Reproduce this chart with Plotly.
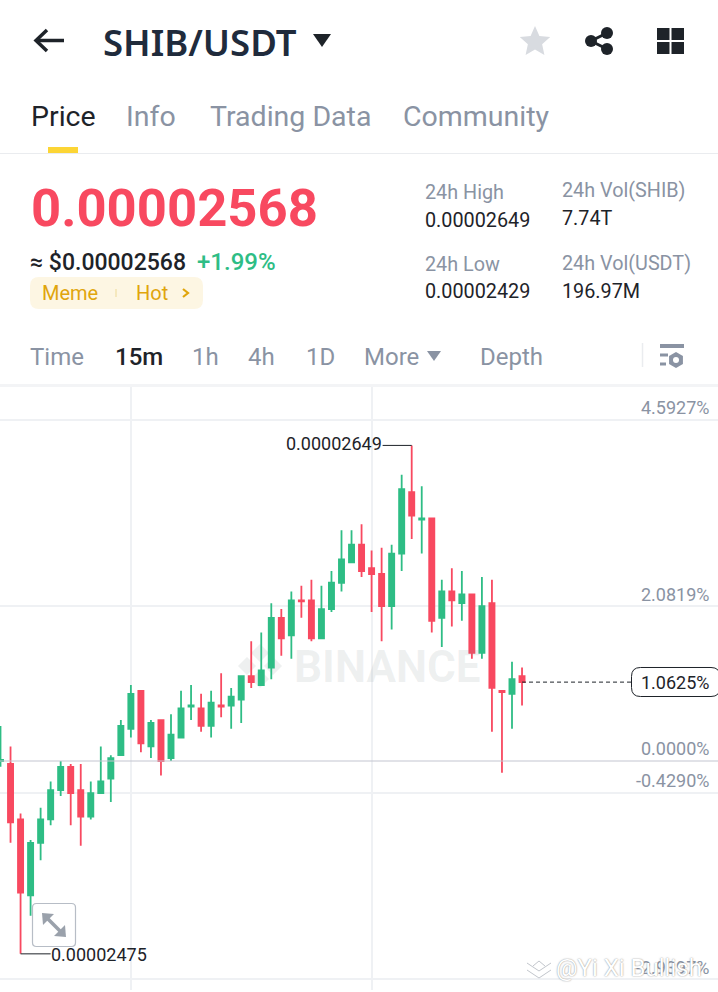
import math
import plotly.graph_objects as go

# prices in units of 1e-8 USDT, oldest candle first
opens = [2541, 2540, 2521, 2495, 2513, 2521, 2531, 2539, 2531, 2522, 2530, 2535, 2543, 2552, 2565, 2546, 2555, 2542,
         2549, 2559.6, 2559, 2553, 2560, 2560, 2562, 2570, 2567, 2573, 2590, 2584, 2596, 2596, 2583, 2593, 2602, 2609,
         2615, 2607, 2605, 2594, 2612, 2633, 2623.6, 2624, 2590, 2599, 2595, 2598, 2578, 2595, 2565, 2564, 2570]
highs = [2553, 2546, 2523, 2514, 2525, 2534, 2541, 2540, 2540, 2534, 2546, 2543, 2555, 2567, 2565, 2555, 2555, 2557,
         2565, 2567, 2564, 2565, 2571, 2566, 2570, 2582, 2585, 2595, 2593, 2599, 2601, 2603, 2601, 2606, 2620, 2620,
         2622, 2613, 2614, 2615, 2639, 2649, 2635, 2624, 2603, 2607, 2606, 2598, 2604, 2603, 2565, 2575, 2573]
lows = [2539, 2513, 2475, 2488, 2507, 2519, 2529, 2519, 2512, 2521, 2530, 2527, 2543, 2549, 2544, 2542, 2536, 2541,
        2549, 2555, 2551, 2549, 2556, 2552, 2554, 2566, 2567, 2569, 2577, 2576, 2590, 2582, 2583, 2592, 2599, 2609,
        2604, 2592, 2582, 2586, 2606, 2617, 2612, 2585, 2580, 2587, 2589, 2576, 2576, 2551, 2537, 2552, 2560]
closes = [2541.4, 2520, 2496, 2513, 2521, 2531, 2539, 2530, 2522, 2530, 2534, 2542, 2553, 2564, 2547, 2554, 2541, 2550,
          2559, 2560, 2553, 2561, 2559.6, 2563, 2570, 2568, 2572, 2590, 2583, 2596, 2595.6, 2583, 2593, 2602, 2610,
          2615, 2606, 2605, 2594, 2612, 2634, 2625, 2624, 2589, 2599, 2596, 2598, 2578, 2594, 2566, 2564.6, 2569, 2568]
candle_idx = list(range(len(opens)))

base_price = 2541
high_price = 2649
low_price = 2475
last_price = 2568
high_idx = 41
low_idx = 2

pct_levels = [4.5927, 2.0819, -0.4290, -2.9397]
pct_labels = ["4.5927%", "2.0819%", "-0.4290%", "-2.9397%"]
time_grid = [13, 37]

GREEN = "#2ebd85"
RED = "#f84960"
DARK = "#1e2329"
GREY = "#8a93a3"
LINE = "#eff1f4"
FONT = "Roboto"
W, H = 718, 992


def fx(x):
    return x / W


def fy(y):
    return 1 - y / H


def path(points, close=True):
    s = "M" + " L".join(f"{fx(x):.5f},{fy(y):.5f}" for x, y in points)
    return s + (" Z" if close else "")


def circle(cx, cy, r):
    return dict(type="circle", xref="paper", yref="paper", x0=fx(cx - r), x1=fx(cx + r), y0=fy(cy + r), y1=fy(cy - r),
                fillcolor=DARK, line_width=0)


def round_box(x0, y0, x1, y1, r):
    return (f"M{fx(x0 + r):.5f},{fy(y0):.5f} L{fx(x1 - r):.5f},{fy(y0):.5f} "
            f"Q{fx(x1):.5f},{fy(y0):.5f} {fx(x1):.5f},{fy(y0 + r):.5f} L{fx(x1):.5f},{fy(y1 - r):.5f} "
            f"Q{fx(x1):.5f},{fy(y1):.5f} {fx(x1 - r):.5f},{fy(y1):.5f} L{fx(x0 + r):.5f},{fy(y1):.5f} "
            f"Q{fx(x0):.5f},{fy(y1):.5f} {fx(x0):.5f},{fy(y1 - r):.5f} L{fx(x0):.5f},{fy(y0 + r):.5f} "
            f"Q{fx(x0):.5f},{fy(y0):.5f} {fx(x0 + r):.5f},{fy(y0):.5f} Z")


shapes = []


def fill(points, color):
    shapes.append(dict(type="path", xref="paper", yref="paper", path=path(points), fillcolor=color, line_width=0))


def stroke(points, color, width):
    shapes.append(dict(type="path", xref="paper", yref="paper", path=path(points, close=False),
                       line=dict(color=color, width=width)))


annotations = []


def label(text, x, y, size, color=DARK, anchor="left", weight=400, family=FONT):
    # annotations carry 2px of padding around the text
    x = x - 2 if anchor == "left" else x + 2
    annotations.append(dict(text=text, x=fx(x), y=fy(y), xref="paper", yref="paper", showarrow=False, xanchor=anchor,
                            yanchor="middle", font=dict(family=family, size=size, color=color, weight=weight)))


fig = go.Figure()

fig.add_trace(go.Candlestick(
    x=candle_idx, open=opens, high=highs, low=lows, close=closes,
    increasing=dict(line=dict(color=GREEN, width=1.8), fillcolor=GREEN),
    decreasing=dict(line=dict(color=RED, width=1.8), fillcolor=RED),
    whiskerwidth=0, hoverinfo="skip",
))

# high / low leaders and the last price line
fig.add_trace(go.Scatter(x=[high_idx - 2.9, high_idx], y=[high_price, high_price], mode="lines",
                         line=dict(color=DARK, width=1), hoverinfo="skip"))
fig.add_trace(go.Scatter(x=[low_idx, low_idx + 3], y=[low_price, low_price], mode="lines",
                         line=dict(color=DARK, width=1), hoverinfo="skip"))
fig.add_trace(go.Scatter(x=[candle_idx[-1], 62.9], y=[last_price, last_price], mode="lines",
                         line=dict(color=DARK, width=1, dash="4px,3px"), hoverinfo="skip"))

annotations.append(dict(text="0.00002649", x=high_idx - 2.8, y=high_price + 0.5, xref="x", yref="y", showarrow=False,
                        xanchor="right", font=dict(family=FONT, size=18, color=DARK)))
annotations.append(dict(text="0.00002475", x=low_idx + 2.8, y=low_price - 0.3, xref="x", yref="y", showarrow=False,
                        xanchor="left", font=dict(family=FONT, size=18, color=DARK)))

# header
stroke([(36, 40.5), (64, 40.5)], DARK, 3.5)
stroke([(47, 30), (36, 40.5), (47, 51)], DARK, 3.5)
label("SHIB/USDT", 103, 42, 36.5, "#202b3c", weight=600, family="Noto Sans")
fill([(313, 34), (331, 34), (322, 47)], DARK)
star = []
for i in range(10):
    r = 16 if i % 2 == 0 else 7.5
    a = -math.pi / 2 + i * math.pi / 5
    star.append((535 + r * math.cos(a), 42 + r * math.sin(a)))
fill(star, "#d8dbe0")
stroke([(607, 33), (591, 41), (607, 49)], DARK, 3)
shapes += [circle(607, 33, 6), circle(591, 41, 6), circle(607, 49, 6)]
for x0, x1 in [(657, 669.5), (671.5, 684)]:
    for y0, y1 in [(28, 40), (42, 54)]:
        fill([(x0, y0), (x1, y0), (x1, y1), (x0, y1)], DARK)

# tabs
label("Price", 31, 117, 28.5)
label("Info", 126, 117, 28.5, GREY)
label("Trading Data", 210, 117, 28.5, GREY)
label("Community", 403, 117, 28.5, GREY)
fill([(48, 147), (78, 147), (78, 153), (48, 153)], "#fcd535")
stroke([(0, 153.5), (718, 153.5)], "#eaecef", 1)

# price block
label("0.00002568", 31, 208, 52.6, RED, weight=700)
label("≈ $0.00002568", 30, 262, 23, DARK, weight=500)
label("+1.99%", 197, 262, 24, GREEN, weight=500)
shapes.append(dict(type="path", xref="paper", yref="paper", path=round_box(30, 277, 203, 309, 9),
                   fillcolor="#fdf6e3", line_width=0))
label("Meme", 42, 293, 20, "#e0a50c")
stroke([(116, 289), (116, 297)], "#f2e3b0", 1.5)
label("Hot", 136, 293, 20, "#e0a50c")
stroke([(183, 289), (188, 293), (183, 297)], "#e0a50c", 2.2)

label("24h High", 425, 192, 19.8, GREY)
label("0.00002649", 425, 220, 19.8)
label("24h Vol(SHIB)", 562, 190, 19.8, GREY)
label("7.74T", 562, 219, 19.8)
label("24h Low", 425, 264, 19.8, GREY)
label("0.00002429", 425, 291, 19.8)
label("24h Vol(USDT)", 562, 263, 19.8, GREY)
label("196.97M", 562, 291, 19.8)

# interval row
label("Time", 30, 357, 24, GREY)
label("15m", 115, 357, 24, DARK, weight=500)
label("1h", 192, 357, 24, GREY)
label("4h", 248, 357, 24, GREY)
label("1D", 306, 357, 24, GREY)
label("More", 364, 357, 24, GREY)
fill([(427, 351), (441, 351), (434, 361)], GREY)
label("Depth", 480, 357, 24, GREY)
stroke([(642.5, 343), (642.5, 367)], "#eaecef", 1.5)
stroke([(660, 346), (684, 346)], GREY, 4)
stroke([(660, 355), (668, 355)], GREY, 3)
stroke([(660, 364), (666, 364)], GREY, 3)
hex_pts = [(676 + 8 * math.cos(math.pi / 6 + i * math.pi / 3), 360 + 8 * math.sin(math.pi / 6 + i * math.pi / 3))
           for i in range(6)]
fill(hex_pts, GREY)
shapes.append(dict(type="circle", xref="paper", yref="paper", x0=fx(673), x1=fx(679), y0=fy(363), y1=fy(357),
                   fillcolor="white", line_width=0))
stroke([(0, 385.5), (718, 385.5)], "#f3f4f6", 3)

# watermark behind the candles
for cx, cy, r in [(247, 666, 9), (260, 653, 9), (260, 679, 9), (273, 666, 9)]:
    shapes.append(dict(type="path", xref="paper", yref="paper", layer="below",
                       path=path([(cx, cy - r), (cx + r, cy), (cx, cy + r), (cx - r, cy)]),
                       fillcolor="#eef0f0", line_width=0))
annotations.append(dict(text="BINANCE", x=fx(292), y=fy(667), xref="paper", yref="paper", showarrow=False,
                        xanchor="left", yanchor="middle",
                        font=dict(family=FONT, size=44, color="rgba(125,140,140,0.13)", weight=700)))

# right hand labels
label(pct_labels[0], 710, 407, 18, GREY, "right")
label(pct_labels[1], 710, 594, 18, GREY, "right")
label("0.0000%", 710, 748, 18, GREY, "right")
label(pct_labels[2], 710, 780, 18, GREY, "right")
label(pct_labels[3], 710, 967, 18, GREY, "right")
shapes.append(dict(type="path", xref="paper", yref="paper", path=round_box(631.5, 667.5, 720, 696.5, 9),
                   fillcolor="white", line=dict(color=DARK, width=1)))
label("1.0625%", 710, 682, 18, DARK, "right")

# expand button
shapes.append(dict(type="path", xref="paper", yref="paper", path=round_box(32.5, 903.5, 75.5, 946.5, 4),
                   fillcolor="white", line=dict(color="#b7bdc6", width=1.2)))
stroke([(46, 917), (62, 933)], "#9aa1ab", 3.5)
fill([(42, 913), (54, 914), (43, 925)], "#9aa1ab")
fill([(66, 937), (54, 936), (65, 925)], "#9aa1ab")

# site watermark
annotations.append(dict(text="@Yi Xi Bullish", x=fx(554), y=fy(968), xref="paper", yref="paper", showarrow=False,
                        xanchor="left", yanchor="middle",
                        font=dict(family=FONT, size=24, color="white", shadow="0 0 1.5px #777")))
for cx, cy in [(539, 963), (539, 970)]:
    stroke([(527, cy), (539, cy + 8), (551, cy)], "#c2c6cc", 1)
stroke([(533, 966), (539, 961), (545, 966)], "#c2c6cc", 1)

y0_px, y1_px = 386, 990
px_per_unit = 2.922

fig.update_layout(
    width=W, height=H,
    margin=dict(l=0, r=0, t=0, b=0),
    paper_bgcolor="white", plot_bgcolor="white",
    showlegend=False,
    boxgap=0.27,
    shapes=shapes,
    annotations=annotations,
    xaxis=dict(range=[-0.05, 71.54], tickvals=time_grid, showticklabels=False, ticks="", showgrid=True,
               gridcolor=LINE, gridwidth=1.5, zeroline=False, rangeslider=dict(visible=False), fixedrange=True),
    yaxis=dict(domain=[fy(y1_px), fy(y0_px)],
               range=[base_price - (y1_px - 761) / px_per_unit, base_price + (761 - y0_px) / px_per_unit],
               tickvals=[base_price * (1 + p / 100) for p in pct_levels], showticklabels=False, ticks="",
               showgrid=True, gridcolor=LINE, gridwidth=1.5, zeroline=False, fixedrange=True),
)

# 0% line, darker than the grid
fig.add_hline(y=base_price, line=dict(color="#c3c5d0", width=1))

# page margin off so the figure fills the window
fig.write_html("out.html", config={"displayModeBar": False}, post_script="document.body.style.margin='0';")
